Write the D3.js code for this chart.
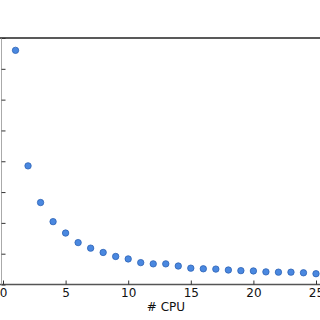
<!DOCTYPE html>
<html>
<head>
<meta charset="utf-8">
<script src="https://cdn.jsdelivr.net/npm/d3@7"></script>
<style>
  html, body { margin: 0; padding: 0; background: #fff; }
  svg { display: block; }
</style>
</head>
<body>
<div id="chart"></div>
<script>
// data
const cpus = [1, 2, 3, 4, 5, 6, 7, 8, 9, 10, 11, 12, 13, 14, 15, 16, 17, 18, 19, 20, 21, 22, 23, 24, 25];
const times = [7.60, 3.85, 2.66, 2.04, 1.67, 1.36, 1.18, 1.04, 0.91, 0.83, 0.71, 0.67, 0.67, 0.60, 0.53, 0.51, 0.50, 0.47, 0.45, 0.44, 0.41, 0.40, 0.40, 0.38, 0.35];
const xTicks = [0, 5, 10, 15, 20, 25];
const yTicks = [0, 1, 2, 3, 4, 5, 6, 7, 8];

(function () {
  const W = 320, H = 320;
  const svg = d3.select("#chart").append("svg")
    .attr("width", W).attr("height", H);

  // plot is cropped on the left and right like the reference
  const x = d3.scaleLinear().domain([0, 28]).range([3, 3 + 28 * 12.52]);
  const y = d3.scaleLinear().domain([0, 8]).range([284.5, 38]);

  const font = "DejaVu Sans, sans-serif";

  // frame
  svg.append("line")
    .attr("x1", 0).attr("x2", W)
    .attr("y1", y(8)).attr("y2", y(8))
    .attr("stroke", "#222").attr("stroke-width", 1.5);
  svg.append("line")
    .attr("x1", 0).attr("x2", W)
    .attr("y1", y(0)).attr("y2", y(0))
    .attr("stroke", "#555").attr("stroke-width", 1.5);
  svg.append("line")
    .attr("x1", 1.5).attr("x2", 1.5)
    .attr("y1", y(8)).attr("y2", y(0))
    .attr("stroke", "#aaa").attr("stroke-width", 1);

  // x axis, ticks inward
  const xAxis = d3.axisBottom(x).tickValues(xTicks).tickSize(-4).tickPadding(4).tickFormat(d3.format("d"));
  const gx = svg.append("g").attr("transform", `translate(0,${y(0)})`).call(xAxis);
  gx.select(".domain").remove();
  gx.selectAll(".tick line").attr("stroke", "#333");
  gx.selectAll(".tick text")
    .attr("fill", "#111")
    .style("font-family", font)
    .style("font-size", "12px");

  // y axis ticks only (labels fall outside the crop)
  const yAxis = d3.axisLeft(y).tickValues(yTicks).tickSize(-4).tickFormat("");
  const gy = svg.append("g").attr("transform", "translate(1.5,0)").call(yAxis);
  gy.select(".domain").remove();
  gy.selectAll(".tick line").attr("stroke", "#333");

  // points
  const pts = cpus.map((c, i) => ({ c, t: times[i] }));
  svg.append("g").selectAll("circle")
    .data(pts)
    .join("circle")
    .attr("cx", d => x(d.c))
    .attr("cy", d => y(d.t))
    .attr("r", 3.2)
    .attr("fill", "#4a88e0")
    .attr("stroke", "#2c62b5")
    .attr("stroke-width", 0.8);

  // axis label
  svg.append("text")
    .attr("x", 166).attr("y", 311)
    .attr("text-anchor", "middle")
    .attr("fill", "#111")
    .style("font-family", font)
    .style("font-size", "12px")
    .text("# CPU");
})();
</script>
</body>
</html>
